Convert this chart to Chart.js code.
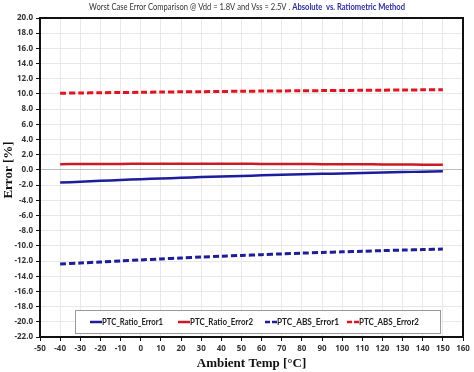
<!DOCTYPE html>
<html><head><meta charset="utf-8">
<script src="https://cdn.jsdelivr.net/npm/chart.js@4.4.0/dist/chart.umd.min.js"></script>
<style>html,body{margin:0;padding:0;background:#fff}#wrap{width:474px;height:372px}</style>
</head><body><div id="wrap"><canvas id="c" width="474" height="372"></canvas></div>
<script>
const temps = [-40,-30,-20,-10,0,10,20,30,40,50,60,70,80,90,100,110,120,130,140,150];
const ratioError1 = [-1.67,-1.55,-1.44,-1.33,-1.23,-1.13,-1.04,-0.95,-0.87,-0.79,-0.72,-0.65,-0.58,-0.52,-0.46,-0.40,-0.35,-0.29,-0.23,-0.18];
const ratioError2 = [0.76,0.77,0.78,0.79,0.80,0.80,0.80,0.80,0.80,0.80,0.79,0.78,0.77,0.76,0.75,0.74,0.72,0.71,0.69,0.67];
const absError1 = [-12.40,-12.26,-12.12,-11.98,-11.85,-11.72,-11.60,-11.48,-11.37,-11.26,-11.16,-11.06,-10.96,-10.87,-10.79,-10.71,-10.63,-10.56,-10.49,-10.43];
const absError2 = [10.10,10.13,10.16,10.19,10.22,10.25,10.28,10.30,10.33,10.35,10.38,10.40,10.42,10.44,10.46,10.48,10.50,10.52,10.54,10.56];
const seriesNames = ['PTC_Ratio_Error1','PTC_Ratio_Error2','PTC_ABS_Error1','PTC_ABS_Error2'];
const titlePlain = 'Worst Case Error Comparison @ Vdd = 1.8V and Vss = 2.5V . ';
const titleBold = 'Absolute  vs. Ratiometric Method';
const xTitle = 'Ambient Temp [\u00B0C]';
const yTitle = 'Error [%]';

const BLUE = '#1c1c9c', RED_S = '#cc1a24', RED_D = '#e8101c';
const mk = (arr) => temps.map((t,i)=>({x:t,y:arr[i]}));

const overlay = {
  id:'overlay',
  afterDraw(chart){
    const ctx = chart.ctx, a = chart.chartArea;
    ctx.save();
    ctx.strokeStyle = '#111'; ctx.lineWidth = 2;
    ctx.strokeRect(a.left, a.top, a.right-a.left, a.bottom-a.top);
    // title
    ctx.textBaseline = 'middle';
    const fPlain = '9.5px Lato, sans-serif', fBold = 'bold 9.5px Lato, sans-serif';
    ctx.font = fPlain; const w1 = ctx.measureText(titlePlain).width;
    ctx.font = fBold; const w2 = ctx.measureText(titleBold).width;
    const k = 316 / (w1 + w2);
    ctx.save();
    ctx.translate(247 - 158, 7); ctx.scale(k, 1);
    ctx.textAlign = 'left';
    ctx.font = fPlain; ctx.fillStyle = '#333';
    ctx.fillText(titlePlain, 0, 0);
    ctx.font = fBold; ctx.fillStyle = '#2b2bb0';
    ctx.fillText(titleBold, w1, 0);
    ctx.restore();
    // axis titles
    ctx.fillStyle = '#111';
    ctx.font = 'bold 13px "Liberation Serif", serif';
    ctx.textAlign = 'center';
    ctx.fillText(xTitle, (a.left+a.right)/2, 364);
    ctx.translate(9, 170); ctx.rotate(-Math.PI/2);
    ctx.fillText(yTitle, 0, 0);
    ctx.restore();
    // legend box
    ctx.save();
    const bx = 75, by = 310, bw = 365, bh = 23;
    ctx.fillStyle = '#fff'; ctx.fillRect(bx,by,bw,bh);
    ctx.strokeStyle = '#999'; ctx.lineWidth = 1;
    ctx.strokeRect(bx+0.5,by+0.5,bw,bh);
    ctx.font = 'bold 8.5px Lato, sans-serif';
    ctx.textBaseline = 'middle'; ctx.textAlign = 'left'; ctx.fillStyle = '#222';
    const starts = [90,178,265,347];
    const widths = [61,63,62,60];
    chart.data.datasets.forEach((ds,i)=>{
      const sx = starts[i], cy = by + bh/2 + 0.5;
      ctx.strokeStyle = ds.borderColor; ctx.lineWidth = 2.5;
      ctx.setLineDash(ds.borderDash && ds.borderDash.length ? [5,2] : []);
      ctx.beginPath(); ctx.moveTo(sx, cy); ctx.lineTo(sx+12, cy); ctx.stroke();
      ctx.setLineDash([]);
      ctx.fillText(ds.label, sx+12, cy, widths[i]);
    });
    ctx.restore();
  }
};

new Chart(document.getElementById('c'), {
  type:'line',
  data:{datasets:[
    {label:seriesNames[0], data:mk(ratioError1), borderColor:BLUE, borderWidth:2.5, pointRadius:0, tension:0.3},
    {label:seriesNames[1], data:mk(ratioError2), borderColor:RED_S, borderWidth:2.5, pointRadius:0, tension:0.3},
    {label:seriesNames[2], data:mk(absError1), borderColor:BLUE, borderWidth:3, borderDash:[6,3], pointRadius:0, tension:0.3},
    {label:seriesNames[3], data:mk(absError2), borderColor:RED_D, borderWidth:3, borderDash:[6,3], pointRadius:0, tension:0.3}
  ]},
  options:{
    responsive:false, animation:false,
    layout:{padding:{top:18,right:11,left:0,bottom:0}},
    plugins:{legend:{display:false}, title:{display:false}, tooltip:{enabled:false}},
    scales:{
      x:{type:'linear', min:-50, max:160,
        ticks:{stepSize:10, color:'#333', font:{size:8, weight:'bold', family:'"Open Sans", sans-serif'}, padding:3, maxRotation:0, autoSkip:false},
        grid:{color:'#e8e8e8', tickLength:4, tickColor:'#111'},
        border:{color:'#111', width:2},
        afterFit(s){ s.height = 35; }
      },
      y:{min:-22, max:20,
        ticks:{stepSize:2, color:'#333', font:{size:8, weight:'bold', family:'"Open Sans", sans-serif'}, padding:3, callback:v=>v.toFixed(1), autoSkip:false},
        grid:{color:(c)=> c.tick && c.tick.value===0 ? '#bdbdbd' : '#e8e8e8', tickLength:4, tickColor:'#111'},
        border:{color:'#111', width:2},
        afterFit(s){ s.width = 40; }
      }
    }
  },
  plugins:[overlay]
});
</script></body></html>
